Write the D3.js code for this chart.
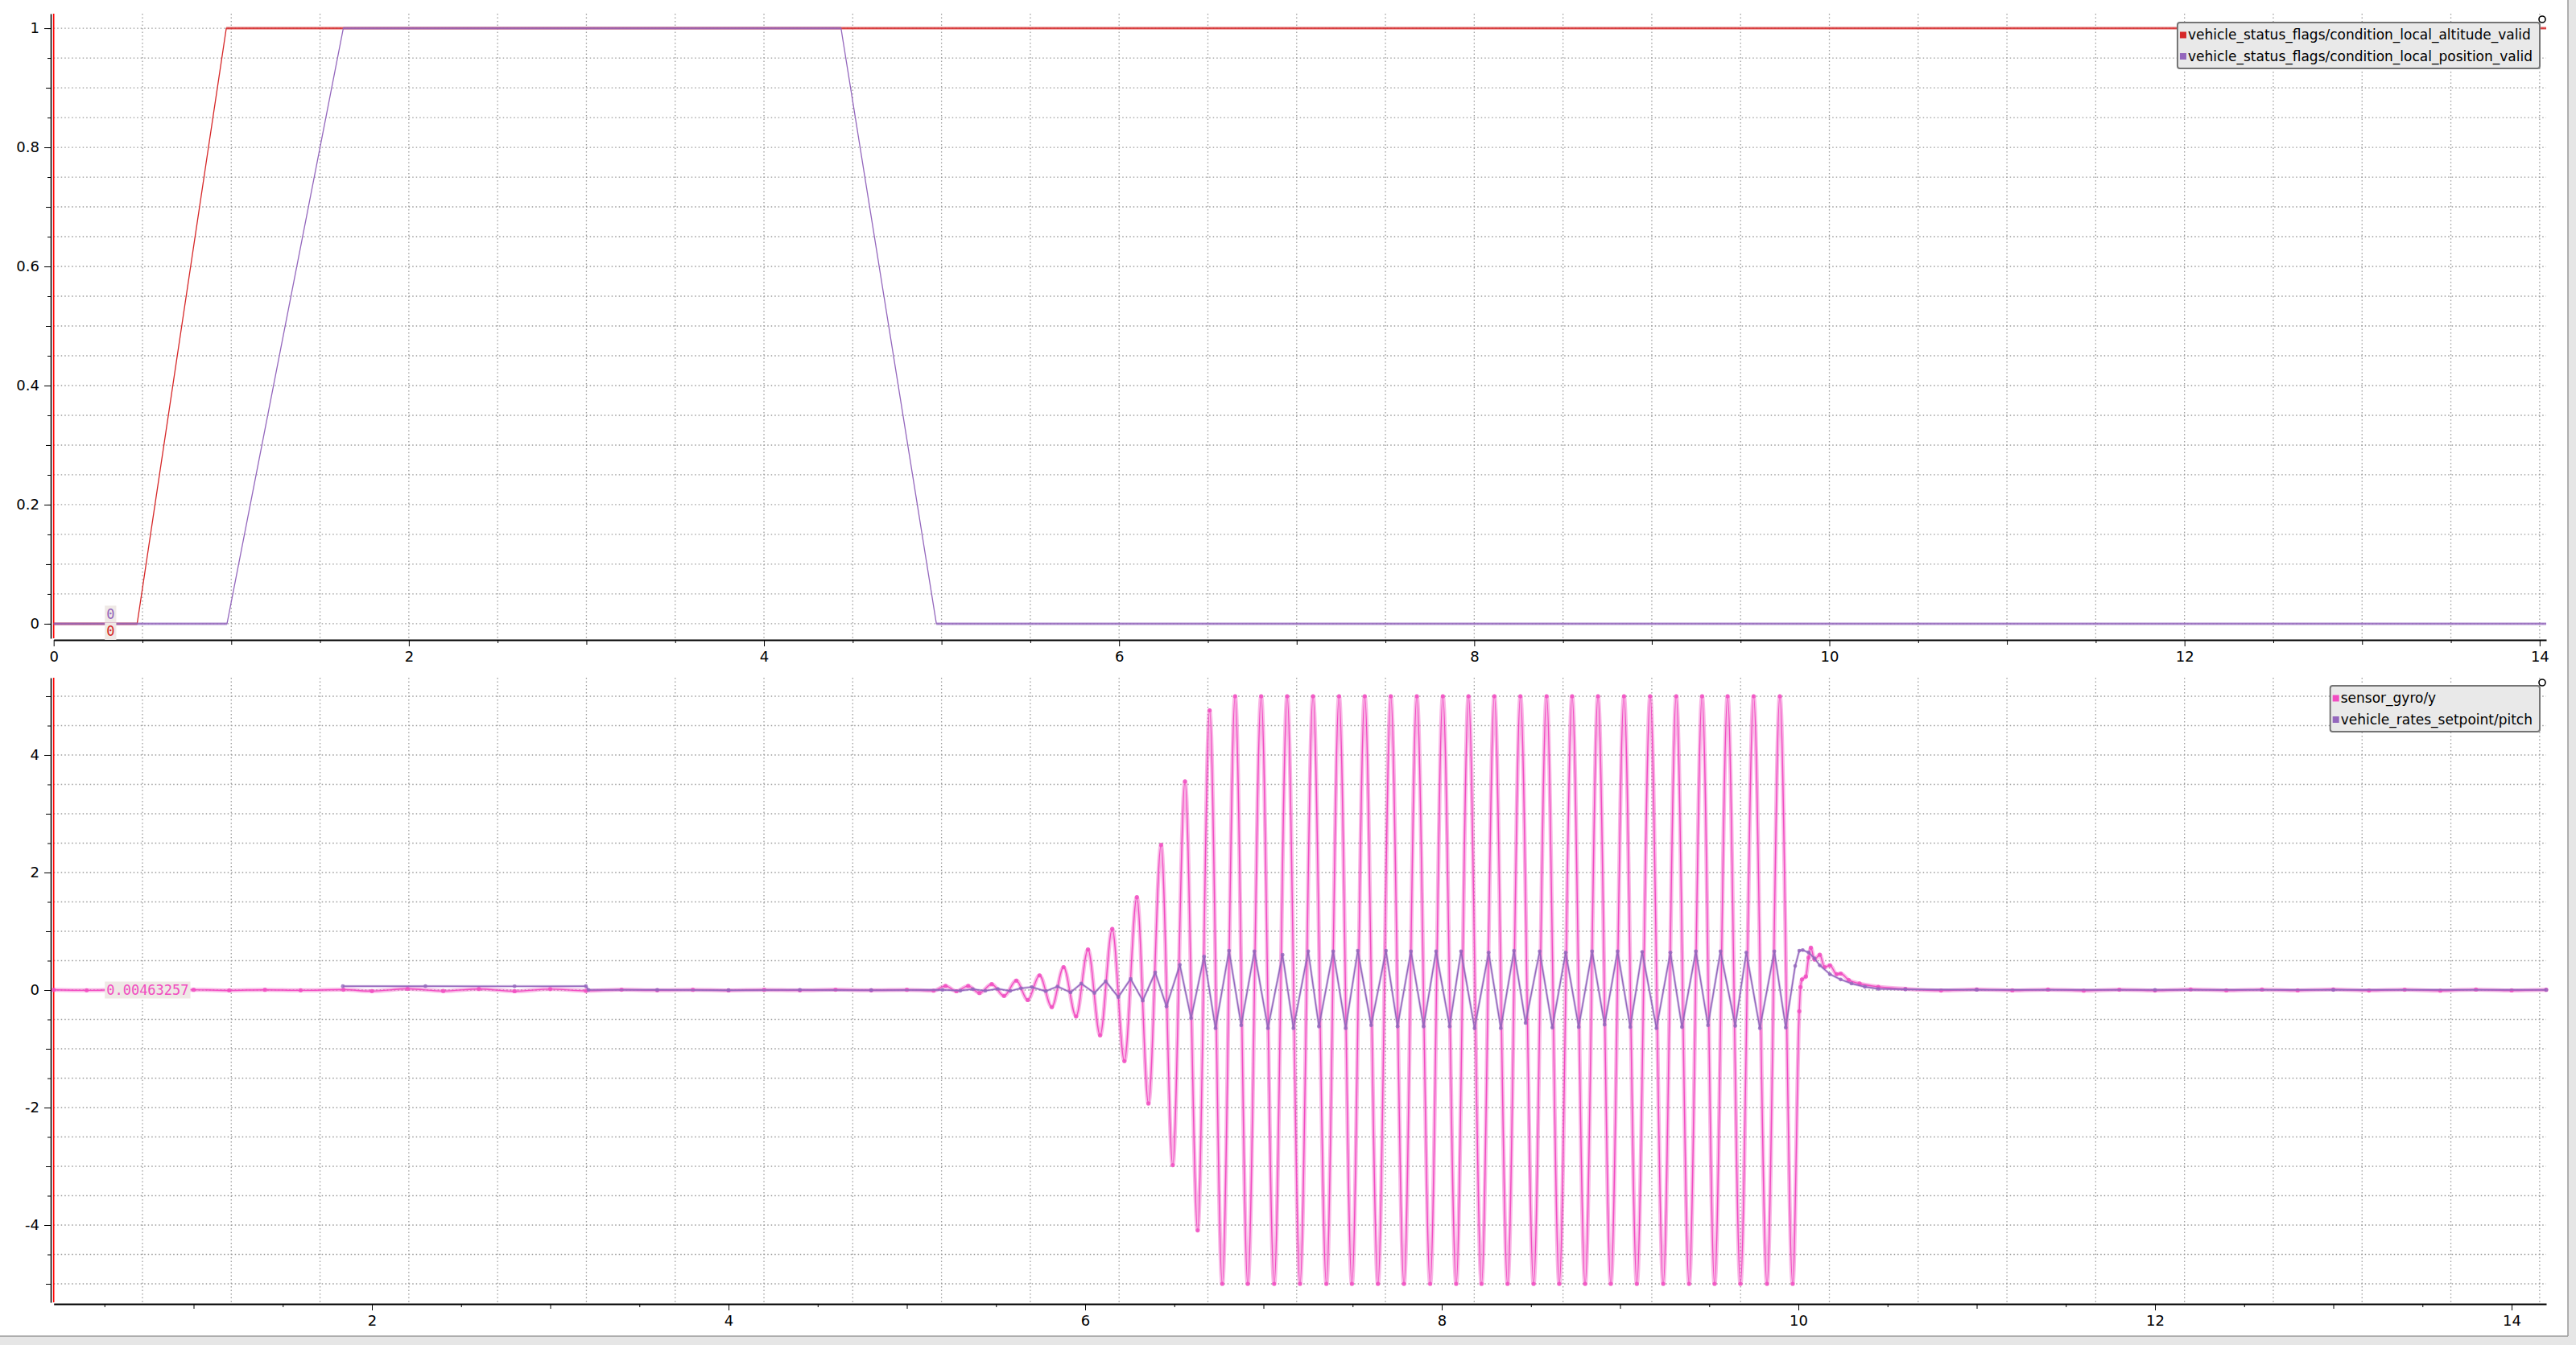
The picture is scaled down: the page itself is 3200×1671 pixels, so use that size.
<!DOCTYPE html>
<html>
<head>
<meta charset="utf-8">
<script src="https://cdn.jsdelivr.net/npm/d3@7"></script>
<style>
  body { margin: 0; background: #fff; }
  svg { display: block; font-family: "DejaVu Sans", sans-serif; }
  .grid line { stroke: #9c9c9c; stroke-width: 1.3; stroke-dasharray: 1.5,3; }
  .axis text { font-family: "DejaVu Sans", sans-serif; font-size: 18px; fill: #000; }
  .axis line, .axis path { stroke: #000; }
  .legend text { font-family: "DejaVu Sans", sans-serif; font-size: 17px; fill: #000; }
  .tracker text { font-family: "DejaVu Sans Mono", monospace; font-size: 17px; }
</style>
</head>
<body>
<svg id="chart" width="3200" height="1671"></svg>
<script>
// ---- values ----

// upper plot: status flags (time s, value)
const altTime  = [0, 0.47, 0.972, 14.037];
const altValue = [0, 0, 1, 1];
const posTime  = [0, 0.976, 1.631, 4.434, 4.971, 14.037];
const posValue = [0, 0, 1, 1, 0, 0];

// lower plot: sensor_gyro/y  [time, value]
const gyroSamples = [
  [0.215,0.003],[0.4,-0.005],[0.6,0.006],[0.8,-0.004],[1.0,0.005],[1.2,-0.006],[1.4,0.004],
  [1.6,-0.005],[1.84,0.006],[2.0,-0.018],[2.2,0.02],[2.4,-0.016],[2.6,0.018],[2.8,-0.02],
  [3.0,0.016],[3.2,-0.012],[3.4,0.006],[3.6,-0.005],[3.8,0.005],[4.0,-0.006],[4.2,0.004],
  [4.4,-0.005],[4.6,0.006],[4.8,-0.004],[5.0,0.005],[5.15,-0.01],
  [5.217,0.07],[5.278,-0.02],[5.344,0.07],[5.407,-0.05],[5.476,0.1],[5.545,-0.1],
  [5.614,0.16],[5.678,-0.17],[5.744,0.25],[5.813,-0.29],[5.879,0.39],[5.949,-0.45],
  [6.016,0.69],[6.084,-0.77],[6.152,1.04],[6.22,-1.21],[6.29,1.58],[6.355,-1.93],
  [6.426,2.47],[6.491,-2.98],[6.56,3.55],[6.631,-4.09],[6.698,4.76],[6.769,-5.0],
  [6.841,5],[6.912,-5],[6.987,5],[7.06,-5],[7.133,5],[7.205,-5],[7.278,5],[7.353,-5],
  [7.424,5],[7.496,-5],[7.568,5],[7.642,-5],[7.714,5],[7.788,-5],[7.86,5],[7.935,-5],
  [8.006,5],[8.081,-5],[8.15,5],[8.223,-5],[8.295,5],[8.369,-5],[8.441,5],[8.515,-5],
  [8.588,5],[8.659,-5],[8.731,5],[8.804,-5],[8.876,5],[8.948,-5],[9.022,5],[9.094,-5],
  [9.169,5],[9.242,-5],[9.315,5],[9.387,-5],[9.46,5],[9.53,-5],[9.603,5],[9.675,-5],
  [9.749,5],[9.824,-5],[9.896,5],[9.968,-5],
  [10.005,-0.36],[10.012,0.05],[10.02,0.18],[10.042,0.23],[10.057,0.55],[10.07,0.72],
  [10.09,0.52],[10.12,0.6],[10.147,0.39],[10.177,0.42],[10.215,0.27],[10.237,0.28],
  [10.282,0.17],[10.343,0.11],[10.448,0.055],[10.6,0.02],
  [10.8,-0.008],[11.0,0.01],[11.2,-0.006],[11.4,0.008],[11.6,-0.01],[11.8,0.006],
  [12.0,-0.008],[12.2,0.01],[12.4,-0.006],[12.6,0.008],[12.8,-0.006],[13.0,0.01],
  [13.2,-0.008],[13.4,0.006],[13.6,-0.01],[13.8,0.008],[14.0,-0.006],[14.194,0.004]
];

// lower plot: vehicle_rates_setpoint/pitch  [time, value]
const rateSamples = [
  [1.837,0.065],[2.3,0.066],[2.8,0.064],[3.2,0.065],[3.215,0.002],[3.6,0.003],[4.0,-0.003],
  [4.4,0.002],[4.8,-0.002],[5.2,0.003],[5.3,-0.01],[5.37,0.015],[5.44,-0.012],[5.51,0.02],
  [5.58,-0.015],[5.64,0.03],[5.701,0.05],[5.779,-0.02],[5.845,0.06],[5.918,-0.04],
  [5.978,0.11],[6.052,-0.05],[6.115,0.15],[6.186,-0.12],[6.255,0.19],[6.323,-0.18],
  [6.393,0.3],[6.456,-0.28],[6.531,0.43],[6.594,-0.48],[6.667,0.57],[6.731,-0.65],
  [6.807,0.67],[6.875,-0.6],[6.949,0.66],[7.025,-0.65],[7.107,0.6],[7.168,-0.65],
  [7.251,0.66],[7.311,-0.62],[7.391,0.66],[7.461,-0.65],[7.529,0.67],[7.604,-0.6],
  [7.687,0.67],[7.752,-0.62],[7.827,0.66],[7.898,-0.62],[7.968,0.66],[8.044,-0.62],
  [8.108,0.66],[8.184,-0.65],[8.263,0.64],[8.331,-0.65],[8.405,0.67],[8.47,-0.56],
  [8.549,0.66],[8.62,-0.64],[8.695,0.64],[8.768,-0.63],[8.843,0.66],[8.913,-0.59],
  [8.986,0.66],[9.057,-0.63],[9.124,0.65],[9.204,-0.65],[9.282,0.64],[9.347,-0.63],
  [9.425,0.66],[9.493,-0.6],[9.563,0.66],[9.646,-0.61],[9.708,0.64],[9.784,-0.65],
  [9.865,0.66],[9.929,-0.64],
  [9.982,0.41],[10.005,0.67],[10.024,0.68],[10.057,0.64],[10.09,0.54],[10.12,0.42],
  [10.177,0.27],[10.237,0.18],[10.298,0.11],[10.373,0.055],[10.448,0.02],[10.6,0.01],
  [11.0,0.004],[12.0,0.002],[13.0,0.003],[14.194,0.002]
];

const topNames = ["vehicle_status_flags/condition_local_altitude_valid",
                  "vehicle_status_flags/condition_local_position_valid"];
const botNames = ["sensor_gyro/y", "vehicle_rates_setpoint/pitch"];
const topColors = ["#d62728", "#9467bd"];
const botColors = ["#f14cc1", "#9467bd"];

const xTickLabels = [0, 2, 4, 6, 8, 10, 12, 14];
const topYTickLabels = [0, 0.2, 0.4, 0.6, 0.8, 1];
const botYTickLabels = [-4, -2, 0, 2, 4];

// tracker values shown at the left of each plot
const trackerTop = ["0", "0"];
const trackerBot = "0.00463257";

// ---- layout ----
const svg = d3.select("#chart");
const left = 66.7, right = 3163;

const xTop = d3.scaleLinear().domain([0, 14.037]).range([left, right]);
const yTop = d3.scaleLinear().domain([-0.0244, 1.0244]).range([793, 17]);
const xBot = d3.scaleLinear().domain([0.2153, 14.194]).range([left, right]);
const yBot = d3.scaleLinear().domain([-5.315, 5.315]).range([1618, 842]);

const halfSteps = d3.range(0.5, 14.01, 0.5);

function drawGrid(yScale, yGrid) {
  const g = svg.append("g").attr("class", "grid");
  const [y0, y1] = yScale.range();
  // vertical lines follow the shared (upper) time grid
  g.selectAll("line.v").data(halfSteps).join("line").attr("class", "v")
    .attr("x1", d => xTop(d)).attr("x2", d => xTop(d))
    .attr("y1", y1).attr("y2", y0);
  g.selectAll("line.h").data(yGrid).join("line").attr("class", "h")
    .attr("x1", left).attr("x2", right)
    .attr("y1", d => yScale(d)).attr("y2", d => yScale(d));
}

function drawAxes(xScale, yScale, xLabels, yLabels, yMinor, yMid) {
  const xAxisY = yScale.range()[0] + 2;
  const xs = halfSteps.filter(d => d >= xScale.domain()[0] && d <= xScale.domain()[1]);

  svg.append("g").attr("class", "axis")
    .attr("transform", `translate(0,${xAxisY})`)
    .call(d3.axisBottom(xScale).tickValues(xs.filter(d => d % 1 !== 0)).tickSize(4)
      .tickFormat("").tickSizeOuter(0))
    .call(g => g.select(".domain").remove());
  svg.append("g").attr("class", "axis")
    .attr("transform", `translate(0,${xAxisY})`)
    .call(d3.axisBottom(xScale).tickValues(xs.filter(d => d % 2 === 1)).tickSize(6)
      .tickFormat("").tickSizeOuter(0))
    .call(g => g.select(".domain").remove());
  const gx = svg.append("g").attr("class", "axis")
    .attr("transform", `translate(0,${xAxisY})`)
    .call(d3.axisBottom(xScale).tickValues(xLabels.filter(d => d >= xScale.domain()[0]))
      .tickSize(8).tickPadding(6).tickSizeOuter(0).tickFormat(d3.format("d")));
  gx.select(".domain").attr("stroke-width", 2);

  svg.append("g").attr("class", "axis")
    .attr("transform", "translate(63,0)")
    .call(d3.axisLeft(yScale).tickValues(yMinor).tickSize(4).tickFormat("").tickSizeOuter(0))
    .call(g => g.select(".domain").remove());
  svg.append("g").attr("class", "axis")
    .attr("transform", "translate(63,0)")
    .call(d3.axisLeft(yScale).tickValues(yMid).tickSize(6).tickFormat("").tickSizeOuter(0))
    .call(g => g.select(".domain").remove());
  const gy = svg.append("g").attr("class", "axis")
    .attr("transform", "translate(63,0)")
    .call(d3.axisLeft(yScale).tickValues(yLabels).tickSize(8).tickPadding(6)
      .tickSizeOuter(0).tickFormat(d => String(d).replace("\u2212", "-")));
  gy.select(".domain").attr("stroke-width", 1.5);

  // red time cursor at the left edge
  svg.append("line")
    .attr("x1", left).attr("x2", left)
    .attr("y1", yScale.range()[1]).attr("y2", yScale.range()[0])
    .attr("stroke", "#ff0000").attr("stroke-width", 1.6);
}

function drawSeries(points, xScale, yScale, color, curve, haloWidth, dotR) {
  const line = d3.line().x(d => xScale(d[0])).y(d => yScale(d[1])).curve(curve);
  const g = svg.append("g");
  g.append("path").attr("d", line(points)).attr("fill", "none")
    .attr("stroke", color).attr("stroke-opacity", 0.4).attr("stroke-width", haloWidth)
    .attr("stroke-linejoin", "round");
  g.append("path").attr("d", line(points)).attr("fill", "none")
    .attr("stroke", color).attr("stroke-width", 1.4).attr("stroke-linejoin", "round");
  if (dotR > 0) {
    g.selectAll("circle").data(points).join("circle")
      .attr("cx", d => xScale(d[0])).attr("cy", d => yScale(d[1]))
      .attr("r", dotR).attr("fill", color).attr("fill-opacity", 0.8);
  }
}

// flat stretches of the step signals carry dense samples: thicker light band there
function drawFlag(times, values, color) {
  const pts = times.map((t, i) => [t, values[i]]);
  const flats = d3.pairs(pts).filter(p => p[0][1] === p[1][1]);
  svg.append("g").selectAll("line").data(flats).join("line")
    .attr("x1", d => xTop(d[0][0])).attr("x2", d => xTop(d[1][0]))
    .attr("y1", d => yTop(d[0][1])).attr("y2", d => yTop(d[1][1]))
    .attr("stroke", color).attr("stroke-opacity", 0.5).attr("stroke-width", 3.5);
  svg.append("path")
    .attr("d", d3.line().x(d => xTop(d[0])).y(d => yTop(d[1]))(pts))
    .attr("fill", "none").attr("stroke", color).attr("stroke-width", 1.3);
}

function drawLegend(names, colors, topY) {
  const g = svg.append("g").attr("class", "legend");
  const rowH = 26.5, boxRight = 3155;
  const texts = names.map((n, i) => g.append("text").attr("y", topY + 21 + i * rowH).text(n));
  const w = d3.max(texts, t => t.node().getComputedTextLength());
  const textX = boxRight - 9 - w;
  texts.forEach(t => t.attr("x", textX));
  g.insert("rect", "text")
    .attr("x", textX - 13).attr("y", topY)
    .attr("width", w + 22).attr("height", rowH * names.length + 4)
    .attr("rx", 3).attr("fill", "#e9e9e9").attr("stroke", "#747474").attr("stroke-width", 2);
  names.forEach((n, i) => g.append("rect")
    .attr("x", textX - 10).attr("y", topY + 11.5 + i * rowH)
    .attr("width", 8).attr("height", 8).attr("fill", colors[i]));
  svg.append("circle").attr("cx", boxRight + 3).attr("cy", topY - 4).attr("r", 4)
    .attr("fill", "#fff").attr("stroke", "#000").attr("stroke-width", 1.6);
}

function trackerLabel(text, x, cy, color) {
  const g = svg.append("g").attr("class", "tracker");
  const t = g.append("text").attr("x", x + 2).attr("y", cy + 6).attr("fill", color).text(text);
  const w = t.node().getComputedTextLength();
  g.insert("rect", "text").attr("x", x).attr("y", cy - 10.5)
    .attr("width", w + 4).attr("height", 21).attr("fill", "#efe9e6");
}

// ---- upper plot ----
drawGrid(yTop, d3.range(0, 1.0001, 0.05));
drawAxes(xTop, yTop, xTickLabels, topYTickLabels,
  d3.range(0, 1.0001, 0.05), d3.range(0.1, 1, 0.2));
drawFlag(altTime, altValue, topColors[0]);
drawFlag(posTime, posValue, topColors[1]);
trackerLabel(trackerTop[1], left + 63.5, yTop(0) - 12, topColors[1]);
trackerLabel(trackerTop[0], left + 63.5, yTop(0) + 9.5, topColors[0]);
drawLegend(topNames, topColors, 28);

// ---- lower plot ----
drawGrid(yBot, d3.range(-5, 5.001, 0.5));
drawAxes(xBot, yBot, xTickLabels, botYTickLabels,
  d3.range(-5, 5.001, 0.5), d3.range(-5, 5.001, 2));
drawSeries(gyroSamples, xBot, yBot, botColors[0], d3.curveMonotoneX, 5, 2.6);
drawSeries(rateSamples, xBot, yBot, botColors[1], d3.curveLinear, 3, 2.4);
trackerLabel(trackerBot, left + 63.5, yBot(0), botColors[0]);
drawLegend(botNames, botColors, 852);

// ---- window frame at right and bottom ----
svg.append("rect").attr("x", 3190).attr("y", 0).attr("width", 10).attr("height", 1671).attr("fill", "#e6e6e6");
svg.append("line").attr("x1", 3190).attr("x2", 3190).attr("y1", 0).attr("y2", 1660)
  .attr("stroke", "#9a9a9a").attr("stroke-width", 1.5);
svg.append("rect").attr("x", 0).attr("y", 1660).attr("width", 3200).attr("height", 11).attr("fill", "#e6e6e6");
svg.append("line").attr("x1", 0).attr("x2", 3190).attr("y1", 1660).attr("y2", 1660)
  .attr("stroke", "#9a9a9a").attr("stroke-width", 1.5);
</script>
</body>
</html>
